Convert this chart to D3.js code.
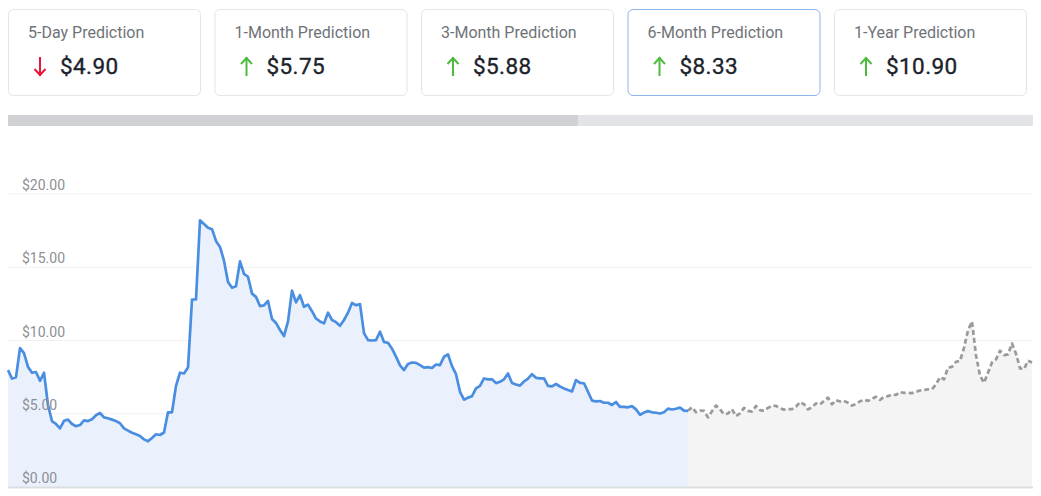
<!DOCTYPE html>
<html><head><meta charset="utf-8">
<script src="https://cdn.jsdelivr.net/npm/d3@7"></script>
<style>body{margin:0;background:#fff;font-family:Roboto,sans-serif}svg{display:block}</style>
</head><body><svg id="c" width="1041" height="496"></svg>
<script>
// ---- data ----
const cardTitles = ["5-Day Prediction", "1-Month Prediction", "3-Month Prediction", "6-Month Prediction", "1-Year Prediction"];
const cardValues = [4.90, 5.75, 5.88, 8.33, 10.90];
const cardDirections = ["down", "up", "up", "up", "up"];
const selectedCard = 3;
const yTicks = [0, 5, 10, 15, 20];
const historyValues = [
  7.98, 7.4, 7.5, 9.48, 9.14, 8.2, 7.8, 7.85, 7.25, 7.8,
  5.6, 4.5, 4.3, 4.0, 4.52, 4.6, 4.3, 4.15, 4.23, 4.55,
  4.5, 4.62, 4.9, 5.05, 4.75, 4.69, 4.6, 4.5, 4.35, 4.0,
  3.85, 3.7, 3.6, 3.48, 3.25, 3.12, 3.35, 3.6, 3.55, 3.72,
  5.1, 5.1, 6.9, 7.8, 7.75, 8.15, 12.8, 12.8, 18.2, 17.95,
  17.7, 17.6, 16.8, 16.39, 15.45, 14.0, 13.6, 13.7, 15.4, 14.55,
  14.35, 13.2, 12.98, 12.35, 12.4, 12.7, 11.47, 11.2, 10.71, 10.3,
  11.3, 13.4, 12.6, 13.1, 12.3, 12.45, 12.0, 11.5, 11.3, 11.17,
  11.9, 11.4, 11.25, 11.0, 11.4, 11.9, 12.56, 12.41, 12.48, 10.5,
  10.03, 10.0, 10.03, 10.6, 9.9, 9.84, 9.44, 8.9, 8.3, 7.98,
  8.4, 8.5, 8.47, 8.32, 8.15, 8.18, 8.12, 8.36, 8.32, 8.89,
  9.05, 8.25, 7.7, 6.5, 5.96, 6.1, 6.2, 6.73, 6.9, 7.41,
  7.35, 7.35, 7.09, 7.18, 7.35, 7.75, 7.1, 7.0, 6.92, 7.2,
  7.4, 7.7, 7.45, 7.41, 7.41, 6.9, 6.87, 7.03, 6.86, 6.73,
  6.62, 6.52, 7.3, 7.11, 7.08, 6.5, 5.9, 5.85, 5.87, 5.75,
  5.75, 5.6, 5.8, 5.47, 5.47, 5.44, 5.52, 5.3, 4.93, 5.08,
  5.18, 5.1, 5.07, 5.02, 5.1, 5.35, 5.29, 5.34, 5.42, 5.21,
  5.2
];
const predictionValues = [
  5.2, 5.45, 5.1, 5.22, 5.2, 4.75, 5.18, 5.56, 5.3, 4.97,
  5.02, 5.3, 4.84, 5.03, 5.4, 5.2, 5.15, 5.53, 5.25, 5.2,
  5.4, 5.55, 5.54, 5.37, 5.28, 5.32, 5.32, 5.48, 5.8, 5.65,
  5.3, 5.43, 5.71, 5.63, 5.88, 6.1, 5.65, 5.93, 5.84, 5.88,
  5.75, 5.56, 5.66, 5.85, 5.95, 5.88, 6.02, 6.16, 5.95, 6.15,
  6.2, 6.32, 6.28, 6.48, 6.43, 6.42, 6.41, 6.5, 6.59, 6.62,
  6.67, 6.68, 7.0, 7.5, 7.35, 8.15, 8.2, 8.55, 8.6, 9.5,
  10.7, 11.3, 9.0, 7.6, 7.12, 7.8, 8.5, 8.71, 9.3, 9.0,
  9.05, 9.8, 9.1, 8.1, 8.05, 8.62, 8.5
];
const scrollViewedFraction = 0.556;

// ---- drawing ----
const svg = d3.select("#c");

// cards
const cardX = d3.scaleBand().domain(d3.range(cardTitles.length)).range([8, 1027]).paddingInner(0.0654).paddingOuter(0);
const cards = svg.selectAll("g.card").data(cardTitles).join("g").attr("class", "card")
  .attr("transform", (d, i) => `translate(${cardX(i)},9)`);
cards.append("rect").attr("x", 0.5).attr("y", 0.5).attr("width", cardX.bandwidth() - 1).attr("height", 86).attr("rx", 5)
  .attr("fill", "#fff").attr("stroke", (d, i) => i === selectedCard ? "#8db4ea" : "#e4e5e8").attr("stroke-width", 1);
cards.append("text").attr("x", 20).attr("y", 29).text(d => d)
  .attr("font-size", 16).attr("fill", "#6f7378");
cards.append("text").attr("x", 52).attr("y", 65).text((d, i) => "$" + d3.format(".2f")(cardValues[i]))
  .attr("font-size", 22.5).attr("font-weight", 400).attr("fill", "#1c222b").attr("letter-spacing", 0.4)
  .attr("stroke", "#1c222b").attr("stroke-width", 0.35);
cards.each(function (d, i) {
  const g = d3.select(this);
  const dir = cardDirections[i];
  const col = dir === "up" ? "#4dbb3f" : "#e8173a";
  const cx = 32, top = 48, bot = 67;
  g.append("line").attr("x1", cx).attr("x2", cx).attr("y1", top).attr("y2", bot).attr("stroke", col).attr("stroke-width", 2);
  const tip = dir === "up" ? top + 1 : bot - 1, s = dir === "up" ? 1 : -1;
  g.append("path").attr("d", `M${cx - 5.5},${tip + 6 * s}L${cx},${tip}L${cx + 5.5},${tip + 6 * s}`)
    .attr("fill", "none").attr("stroke", col).attr("stroke-width", 2);
});

// scrollbar
const sx = d3.scaleLinear().domain([0, 1]).range([8, 1033]);
svg.append("rect").attr("x", sx(0)).attr("y", 115).attr("width", sx(1) - sx(0)).attr("height", 11).attr("fill", "#e3e4e8");
svg.append("rect").attr("x", sx(0)).attr("y", 115).attr("width", sx(scrollViewedFraction) - sx(0)).attr("height", 11).attr("fill", "#d0d1d5");

// chart
const nH = historyValues.length - 1, nP = predictionValues.length - 1;
const x = d3.scaleLinear().domain([0, nH + nP]).range([8, 1032]);
const y = d3.scaleLinear().domain([0, 20]).range([487, 194]);

const hist = historyValues.map((v, i) => [i, v]);
const pred = predictionValues.map((v, i) => [nH + i, v]);

svg.append("g").selectAll("line").data(yTicks.filter(t => t > 0)).join("line")
  .attr("x1", 8).attr("x2", 1033).attr("y1", d => y(d)).attr("y2", d => y(d))
  .attr("stroke", "#f1f1f3").attr("stroke-width", 1);

const area = d3.area().x(d => x(d[0])).y0(y(0)).y1(d => y(d[1]));
const line = d3.line().x(d => x(d[0])).y(d => y(d[1]));

svg.append("path").datum(hist).attr("d", area).attr("fill", "#eaf1fc");
svg.append("path").datum(pred).attr("d", area).attr("fill", "#f4f4f4");
svg.append("line").attr("x1", 8).attr("x2", 1033).attr("y1", y(0) + 0.5).attr("y2", y(0) + 0.5)
  .attr("stroke", "#dcdde0").attr("stroke-width", 2);

svg.append("path").datum(hist).attr("d", line).attr("fill", "none")
  .attr("stroke", "#4a8ee2").attr("stroke-width", 2.7).attr("stroke-linejoin", "round");
svg.append("path").datum(pred).attr("d", line).attr("fill", "none")
  .attr("stroke", "#999a9c").attr("stroke-width", 2.7).attr("stroke-dasharray", "5,3").attr("stroke-linejoin", "round");

// y labels
const fmt = d3.format(".2f");
svg.append("g").selectAll("text").data(yTicks).join("text")
  .attr("x", 22).attr("y", d => y(d) - 4).text(d => "$" + fmt(d))
  .attr("font-size", 14).attr("fill", "#8c8f94");
</script></body></html>
